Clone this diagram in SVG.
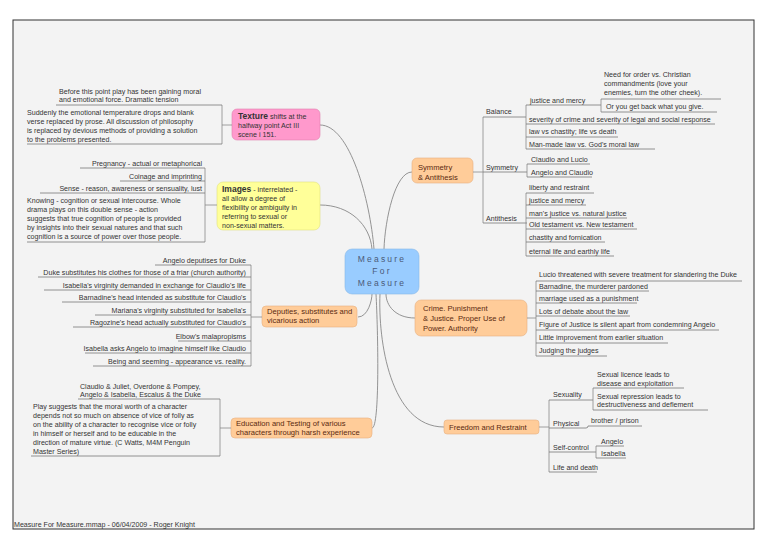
<svg xmlns="http://www.w3.org/2000/svg" width="768" height="543" viewBox="0 0 768 543">
<style>
text{font-family:"Liberation Sans",Arial,sans-serif;font-size:7.1px;fill:#333}
.e{text-anchor:end}
.ul{stroke:#777;stroke-width:0.8;fill:none}
.br{stroke:#888;stroke-width:0.8;fill:none}
.con{stroke:#888;stroke-width:0.9;fill:none}
.or{fill:#ffcc99;stroke:#e8b080;stroke-width:0.6}
.ot{fill:#5a2a10;font-size:7.6px}
</style>
<rect x="0" y="0" width="768" height="543" fill="#fff"/>
<rect x="13" y="20" width="741" height="509" fill="#f3f3f3" stroke="#333" stroke-width="1"/>
<g id="connectors">
<path class="con" d="M320 125 C350 125 370 200 374 249"/>
<path class="con" d="M320 205 C350 205 370 225 372 249"/>
<path class="con" d="M412 172 C395 172 385 220 384 249"/>
<path class="con" d="M358 317 C368 317 372 300 372 294"/>
<path class="con" d="M372 428 C380 428 378 330 376 294"/>
<path class="con" d="M415 318 C395 318 386 305 386 294"/>
<path class="con" d="M444 427 C390 427 378 340 380 294"/>
</g>
<g id="center">
<rect x="345" y="249" width="74" height="45" rx="7" fill="#99ccff" stroke="#88b8e8" stroke-width="0.6"/>
<text x="382" y="262" style="text-anchor:middle;font-size:8.5px;letter-spacing:2.2px;fill:#4a5a78">Measure</text>
<text x="382" y="274" style="text-anchor:middle;font-size:8.5px;letter-spacing:2.2px;fill:#4a5a78">For</text>
<text x="382" y="286" style="text-anchor:middle;font-size:8.5px;letter-spacing:2.2px;fill:#4a5a78">Measure</text>
</g>
<g id="texture">
<rect x="232" y="109" width="88" height="31" rx="5" fill="#ff99cc" stroke="#e080b0" stroke-width="0.6"/>
<text x="238" y="119" style="fill:#333"><tspan style="font-weight:bold;font-size:8.5px">Texture</tspan> shifts at the</text>
<text x="238" y="128">halfway point Act III</text>
<text x="238" y="137">scene i 151.</text>
<path class="br" d="M232 125 H222 M222 105 V144"/>
<text x="59" y="94">Before this point play has been gaining moral</text>
<text x="59" y="102">and emotional force.  Dramatic tension</text>
<path class="ul" d="M56 105 H222"/>
<text x="27" y="115">Suddenly the emotional temperature drops and blank</text>
<text x="27" y="124">verse replaced by prose.  All discussion of philosophy</text>
<text x="27" y="133">is replaced by devious methods of providing a solution</text>
<text x="27" y="142">to the problems presented.</text>
<path class="ul" d="M27 144 H222"/>
</g>
<g id="images">
<rect x="217" y="182" width="103" height="48" rx="6" fill="#ffff99" stroke="#e0e080" stroke-width="0.6"/>
<text x="222" y="192"><tspan style="font-weight:bold;font-size:8.5px">Images</tspan>  - interrelated -</text>
<text x="222" y="201">all allow a degree of</text>
<text x="222" y="210">flexibility or ambiguity in</text>
<text x="222" y="219">referring to sexual or</text>
<text x="222" y="228">non-sexual matters.</text>
<path class="br" d="M217 205 H205 M205 168 V242"/>
<text x="202" y="166" class="e">Pregnancy - actual or metaphorical</text>
<path class="ul" d="M80 168 H205"/>
<text x="202" y="179" class="e">Coinage and imprinting</text>
<path class="ul" d="M120 181 H205"/>
<text x="202" y="191" class="e">Sense - reason, awareness or sensuality, lust</text>
<path class="ul" d="M40 193 H205"/>
<text x="27" y="203">Knowing - cognition or sexual intercourse.  Whole</text>
<text x="27" y="212">drama plays on this double sense - action</text>
<text x="27" y="221">suggests that true cognition of people is provided</text>
<text x="27" y="230">by insights into their sexual natures and that such</text>
<text x="27" y="239">cognition is a source of power over those people.</text>
<path class="ul" d="M27 242 H205"/>
</g>
<g id="deputies">
<rect x="262" y="306" width="95" height="21" rx="4" class="or"/>
<text x="267" y="314" class="ot">Deputies, substitutes and</text>
<text x="267" y="323" class="ot">vicarious action</text>
<path class="br" d="M262 317 H251 M251 265 V366"/>
<text x="246" y="263" class="e">Angelo deputises for Duke</text><path class="ul" d="M155 265 H251"/>
<text x="246" y="275" class="e">Duke substitutes his clothes for those of a friar (church authority)</text><path class="ul" d="M38 277 H251"/>
<text x="246" y="288" class="e">Isabella's virginity demanded in exchange for Claudio's life</text><path class="ul" d="M44 290 H251"/>
<text x="246" y="300" class="e">Barnadine's head intended as substitute for Claudio's</text><path class="ul" d="M62 302 H251"/>
<text x="246" y="313" class="e">Mariana's virginity substituted for Isabella's</text><path class="ul" d="M95 315 H251"/>
<text x="246" y="325" class="e">Ragozine's head actually substituted for Claudio's</text><path class="ul" d="M73 327 H251"/>
<text x="246" y="339" class="e">Elbow's malapropisms</text><path class="ul" d="M178 341 H251"/>
<text x="246" y="351" class="e">Isabella asks Angelo to imagine himself like Claudio</text><path class="ul" d="M85 353 H251"/>
<text x="246" y="364" class="e">Being and seeming - appearance vs. reality.</text><path class="ul" d="M93 366 H251"/>
</g>
<g id="education">
<rect x="231" y="418" width="141" height="20" rx="4" class="or"/>
<text x="236" y="426" class="ot">Education and Testing of various</text>
<text x="236" y="435" class="ot">characters through harsh experience</text>
<path class="br" d="M231 428 H220 M220 399 V456"/>
<text x="80" y="389">Claudio &amp; Juliet, Overdone &amp; Pompey,</text>
<text x="80" y="397">Angelo &amp; Isabella, Escalus &amp; the Duke</text>
<path class="ul" d="M78 399 H220"/>
<text x="33" y="409">Play suggests that the moral worth of a character</text>
<text x="33" y="418">depends not so much on absence of vice of folly as</text>
<text x="33" y="427">on the ability of a character to recognise vice or folly</text>
<text x="33" y="436">in himself or herself and to be educable in the</text>
<text x="33" y="445">direction of mature virtue. (C Watts, M4M Penguin</text>
<text x="33" y="454">Master Series)</text>
<path class="ul" d="M31 456 H220"/>
</g>
<g id="symmetry">
<rect x="412" y="158" width="61" height="25" rx="5" class="or"/>
<text x="418" y="170" class="ot">Symmetry</text>
<text x="418" y="180" class="ot"> &amp; Antithesis</text>
<path class="br" d="M473 172 H483 M483 117 V223"/>
<text x="486" y="114">Balance</text><path class="ul" d="M483 117 H526"/>
<text x="486" y="170">Symmetry</text><path class="ul" d="M483 172 H527"/>
<text x="486" y="221">Antithesis</text><path class="ul" d="M483 223 H527"/>
<path class="br" d="M526 105 V149"/>
<text x="530" y="103">justice and mercy</text><path class="ul" d="M526 105 H601"/>
<path class="br" d="M601 99 V112"/>
<text x="604" y="77">Need for order vs. Christian</text>
<text x="604" y="86">commandments (love your</text>
<text x="604" y="95">enemies, turn the other cheek).</text>
<path class="ul" d="M601 99 H721"/>
<text x="606" y="109">Or you get back what you give.</text><path class="ul" d="M601 112 H717"/>
<text x="529" y="122">severity of crime and severity of legal and social response</text><path class="ul" d="M526 124 H715"/>
<text x="529" y="134">law vs chastity; life vs death</text><path class="ul" d="M526 137 H618"/>
<text x="529" y="147">Man-made law vs. God's moral law</text><path class="ul" d="M526 149 H655"/>
<path class="br" d="M527 164 V177"/>
<text x="531" y="162">Claudio and Lucio</text><path class="ul" d="M527 164 H590"/>
<text x="531" y="175">Angelo and Claudio</text><path class="ul" d="M527 177 H592"/>
<path class="br" d="M526 193 V256"/>
<text x="529" y="190">liberty and restraint</text><path class="ul" d="M526 193 H594"/>
<text x="529" y="203">justice and mercy</text><path class="ul" d="M526 205 H586"/>
<text x="529" y="216">man's justice vs. natural justice</text><path class="ul" d="M526 218 H627"/>
<text x="529" y="227">Old testament vs. New testament</text><path class="ul" d="M526 229 H637"/>
<text x="529" y="240">chastity and fornication</text><path class="ul" d="M526 242 H605"/>
<text x="529" y="254">eternal life and earthly life</text><path class="ul" d="M526 256 H614"/>
</g>
<g id="crime">
<rect x="415" y="300" width="112" height="36" rx="6" class="or"/>
<text x="423" y="311" class="ot">Crime.  Punishment</text>
<text x="423" y="321" class="ot">&amp; Justice. Proper Use of</text>
<text x="423" y="331" class="ot">Power.  Authority</text>
<path class="br" d="M527 318 H536 M536 281 V356"/>
<text x="539" y="277">Lucio threatened with severe treatment for slandering the Duke</text><path class="ul" d="M536 281 H742"/>
<text x="539" y="289">Barnadine, the murderer pardoned</text><path class="ul" d="M536 291 H649"/>
<text x="539" y="301">marriage used as a punishment</text><path class="ul" d="M536 303 H637"/>
<text x="539" y="314">Lots of debate about the law</text><path class="ul" d="M536 316 H630"/>
<text x="539" y="327">Figure of Justice is silent apart from condemning Angelo</text><path class="ul" d="M536 330 H719"/>
<text x="539" y="340">Little improvement from earlier situation</text><path class="ul" d="M536 343 H668"/>
<text x="539" y="353">Judging the judges</text><path class="ul" d="M536 356 H607"/>
</g>
<g id="freedom">
<rect x="444" y="420" width="95" height="14" rx="3" class="or"/>
<text x="449" y="430" class="ot">Freedom and Restraint</text>
<path class="br" d="M539 427 H549 M549 400 V472"/>
<text x="553" y="397">Sexuality</text><path class="ul" d="M549 400 H593"/>
<path class="br" d="M593 388 V410"/>
<text x="597" y="377">Sexual licence leads to</text>
<text x="597" y="386">disease and exploitation</text>
<path class="ul" d="M593 388 H684"/>
<text x="597" y="399">Sexual repression leads to</text>
<text x="597" y="407">destructiveness and deflement</text>
<path class="ul" d="M593 410 H708"/>
<text x="553" y="426">Physical</text><path class="ul" d="M549 428 H586 Q588 428 588 426 H642"/>
<text x="591" y="423">brother / prison</text>
<text x="553" y="450">Self-control</text><path class="ul" d="M549 452 H596"/>
<path class="br" d="M596 446 V458"/>
<text x="601" y="444">Angelo</text><path class="ul" d="M596 446 H624"/>
<text x="601" y="456">Isabella</text><path class="ul" d="M596 458 H626"/>
<text x="553" y="470">Life and death</text><path class="ul" d="M549 472 H597"/>
</g>
<text x="14" y="527">Measure For Measure.mmap - 06/04/2009 - Roger Knight</text>
</svg>
